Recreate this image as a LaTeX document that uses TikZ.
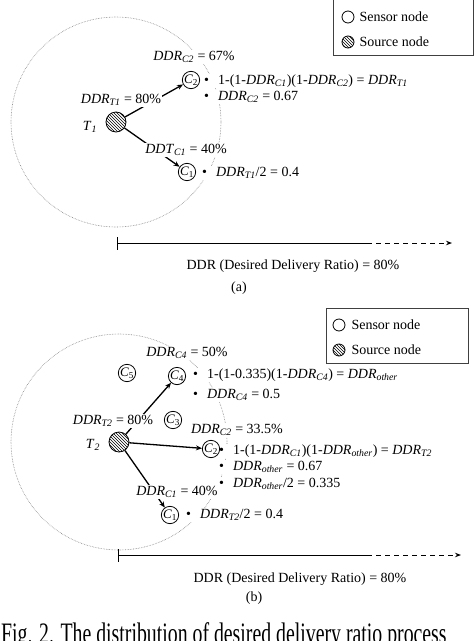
\documentclass[tikz,border=0pt]{standalone}
\usepackage{fontspec}
\setmainfont{Liberation Serif}
\usetikzlibrary{arrows.meta,patterns,backgrounds}

\newcommand{\vr}[2]{\textit{#1}\textsubscript{\textit{#2}}}
\newcommand{\cn}[1]{\textit{C}\textsubscript{#1}}

\tikzset{
  sensor/.style={circle,draw,fill=white,line width=0.8pt,inner sep=0pt,minimum size=16pt,font=\fontsize{13}{13}\selectfont},
  source/.style={circle,draw,line width=0.8pt,pattern=north west lines,minimum size=20pt},
  lbl/.style={fill=white,inner sep=1pt},
  item/.style={fill=white,inner sep=1pt,anchor=west},
  ring/.style={gray,densely dotted,line width=0.6pt},
  link/.style={line width=1.3pt,-{Stealth[length=6pt,width=5pt]}},
  axis/.style={line width=0.9pt},
  keybox/.style={line width=0.8pt,black!75},
}

\begin{document}
\begin{tikzpicture}[x=1pt,y=-1pt,font=\fontsize{14}{16}\selectfont]
\useasboundingbox (0,0) rectangle (474,641);

% (a)
\draw[keybox] (333,-1) rectangle (473,55);
\node[sensor,minimum size=12pt] (ks1) at (348,17) {};
\node[anchor=west] (ts1) at (356,17) {Sensor node};
\node[source,minimum size=12pt] (kr1) at (348,42) {};
\node[anchor=west] (tr1) at (356,42) {Source node};

\node[source] (T1) at (116,122) {};
\node (t1) at (90,127) {\vr{T}{1}};
\node[lbl] (dT1) at (121,100) {\vr{DDR}{T1} = 80\%};
\node[sensor] (C2a) at (191,80) {\cn{2}};
\node[lbl] (dC2a) at (194,57) {\vr{DDR}{C2} = 67\%};
\node[item] (e1) at (203,81) {\textbullet\hspace{9pt}1-(1-\vr{DDR}{C1})(1-\vr{DDR}{C2}) = \vr{DDR}{T1}};
\node[item] (e2) at (203,97) {\textbullet\hspace{9pt}\vr{DDR}{C2} = 0.67};
\node[sensor] (C1a) at (187,172) {\cn{1}};
\node[lbl] (dC1a) at (186,150) {\vr{DDT}{C1} = 40\%};
\node[item] (e3) at (201,173) {\textbullet\hspace{9pt}\vr{DDR}{T1}/2 = 0.4};

\begin{scope}[on background layer]
\draw[ring] (T1.center) circle[radius=105pt];
\draw[link] (T1) -- (C2a);
\draw[link] (T1) -- (C1a);
\end{scope}

\coordinate (a0) at (117,243);
\coordinate (a1) at (367,243);
\coordinate (a2) at (452,243);
\draw[axis,{Bar[width=13pt]}-] (a0) -- (a1);
\draw[axis,dash pattern=on 5pt off 4pt,-{Stealth[length=6pt]}] (a1) -- (a2);
\node (ra) at (293,266) {DDR (Desired Delivery Ratio) = 80\%};
\node (pa) at (239,288) {(a)};

% (b)
\draw[keybox] (326,308) rectangle (468,363);
\node[sensor,minimum size=12pt] (ks2) at (339,325) {};
\node[anchor=west] (ts2) at (348,325) {Sensor node};
\node[source,minimum size=12pt] (kr2) at (339,350) {};
\node[anchor=west] (tr2) at (348,350) {Source node};

\node[source] (T2) at (119,442) {};
\node (t2) at (93,445) {\vr{T}{2}};
\node[lbl] (dT2) at (113,421) {\vr{DDR}{T2} = 80\%};
\node[sensor] (C5) at (127,373) {\cn{5}};
\node[lbl] (dC4) at (187,353) {\vr{DDR}{C4} = 50\%};
\node[item] (f1) at (192,375) {\textbullet\hspace{9pt}1-(1-0.335)(1-\vr{DDR}{C4}) = \vr{DDR}{other}};
\node[item] (f2) at (192,395) {\textbullet\hspace{9pt}\vr{DDR}{C4} = 0.5};
\node[sensor] (C4) at (177,376) {\cn{4}};
\node[sensor] (C3) at (173,420) {\cn{3}};
\node[lbl] (dC2b) at (237,430) {\vr{DDR}{C2} = 33.5\%};
\node[item] (f3) at (218,451) {\textbullet\hspace{9pt}1-(1-\vr{DDR}{C1})(1-\vr{DDR}{other}) = \vr{DDR}{T2}};
\node[item] (f4) at (218,467) {\textbullet\hspace{9pt}\vr{DDR}{other} = 0.67};
\node[item] (f5) at (218,484) {\textbullet\hspace{9pt}\vr{DDR}{other}/2 = 0.335};
\node[sensor] (C2b) at (211,449) {\cn{2}};
\node[lbl] (dC1b) at (177,492) {\vr{DDR}{C1} = 40\%};
\node[item] (f6) at (185,515) {\textbullet\hspace{9pt}\vr{DDR}{T2}/2 = 0.4};
\node[sensor] (C1b) at (170,515) {\cn{1}};

\begin{scope}[on background layer]
\draw[ring] (T2.center) circle[radius=108pt];
\draw[link] (T2) -- (C4);
\draw[link] (T2) -- (C2b);
\draw[link] (T2) -- (C1b);
\end{scope}

\coordinate (b0) at (118,555);
\coordinate (b1) at (367,555);
\coordinate (b2) at (461,555);
\draw[axis,{Bar[width=13pt]}-] (b0) -- (b1);
\draw[axis,dash pattern=on 5pt off 4pt,-{Stealth[length=6pt]}] (b1) -- (b2);
\node (rb) at (300,579) {DDR (Desired Delivery Ratio) = 80\%};
\node (pb) at (254,598) {(b)};

\node[anchor=base west,inner sep=0pt,font=\fontsize{19.8}{24}\selectfont] (cap) at (1,643) {\scalebox{1}[1.5]{Fig. 2. The distribution of desired delivery ratio process}};
\end{tikzpicture}
\end{document}
